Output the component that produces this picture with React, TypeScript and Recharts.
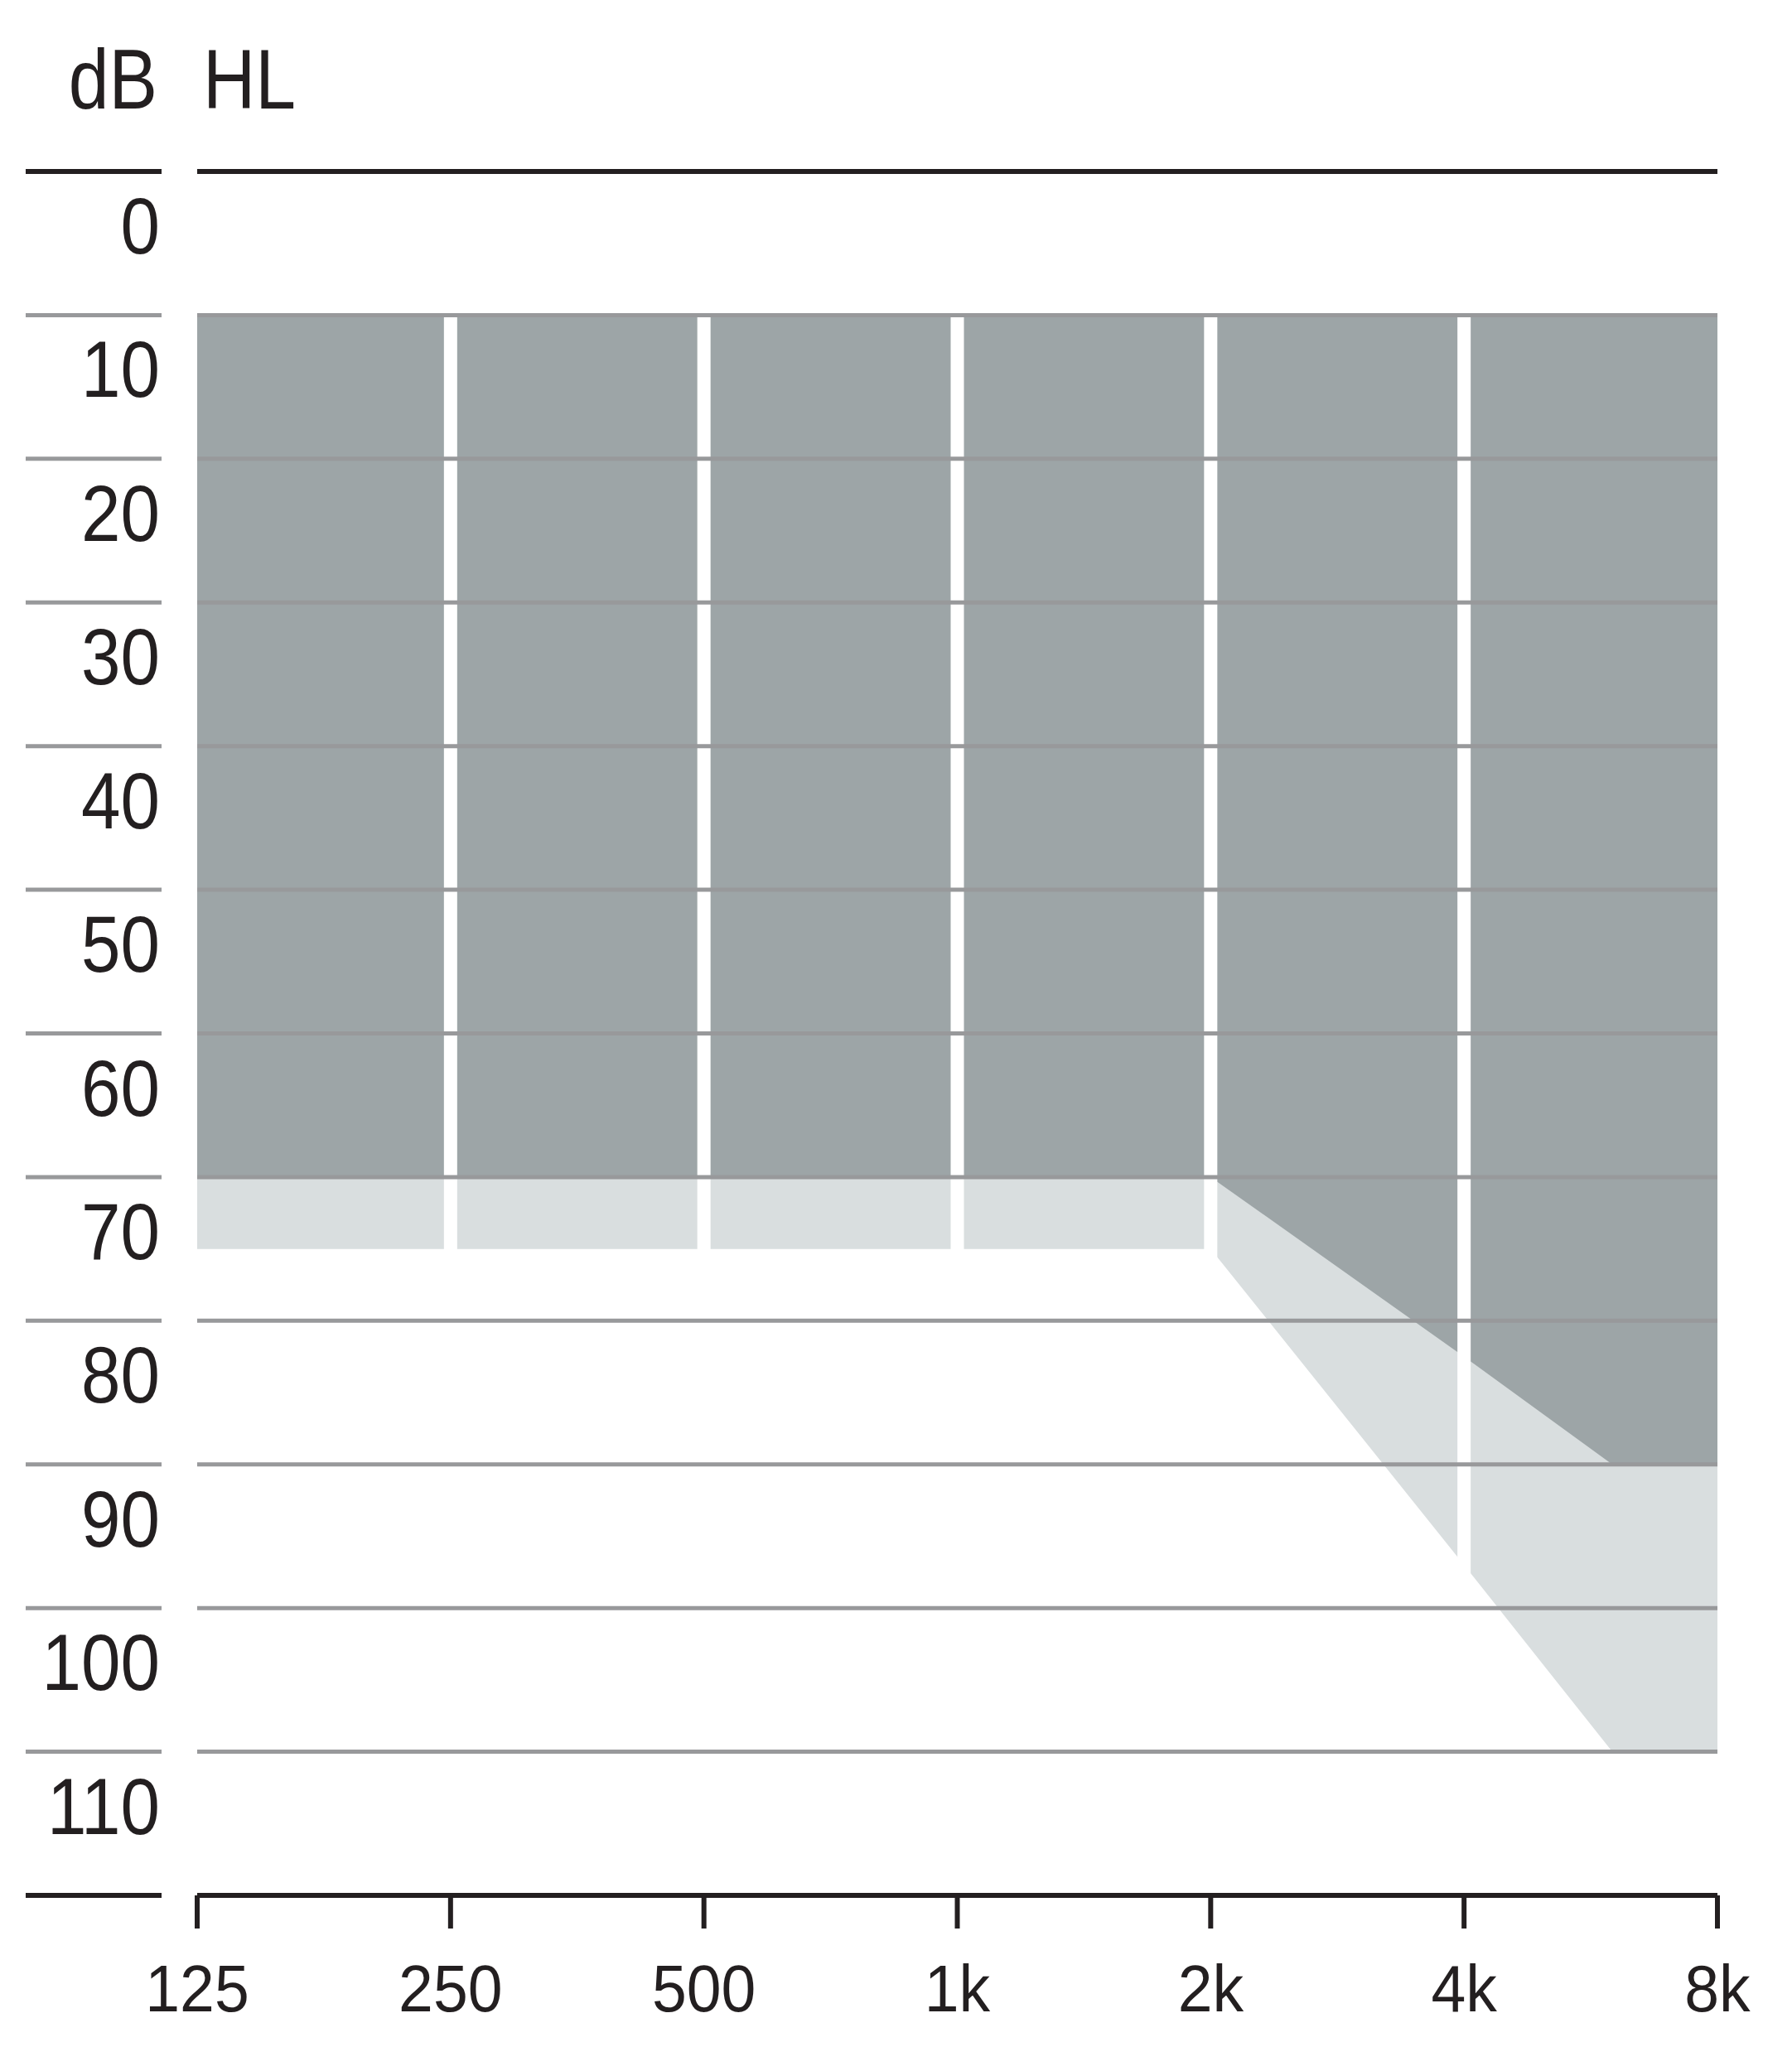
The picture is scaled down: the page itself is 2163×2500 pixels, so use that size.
import React from "react";
import { Area, ComposedChart, ReferenceLine, XAxis, YAxis } from "recharts";

// fitting range: frequency (Hz) vs hearing level (dB HL)
const frequencies = [125, 250, 500, 1000, 2000, 4000, 6000, 8000];
const upperLimit = [10, 10, 10, 10, 10, 10, 10, 10];
const coreLower = [70, 70, 70, 70, 70, 82.5, 90, 90];
const extendedLower = [75, 75, 75, 75, 75, 97, 110, 110];

const freqTicks = [125, 250, 500, 1000, 2000, 4000, 8000];
const freqLabels = ["125", "250", "500", "1k", "2k", "4k", "8k"];
const bandGaps = [250, 500, 1000, 2000, 4000];

const levelTicks = [0, 10, 20, 30, 40, 50, 60, 70, 80, 90, 100, 110, 120];
const levelLabels = ["0", "10", "20", "30", "40", "50", "60", "70", "80", "90", "100", "110"];

const FONT = "'Liberation Sans', Arial, sans-serif";
const INK = "#231f20";
const GRID = "#98999b";

const data = frequencies.map((f, i) => ({
  freq: f,
  core: [upperLimit[i], coreLower[i]],
  extended: [upperLimit[i], extendedLower[i]]
}));

// squeezed text, the original uses a narrow face
function NarrowText({ x, y, anchor, size, squeeze, children }: any) {
  return (
    <text
      transform={`translate(${x} ${y}) scale(${squeeze} 1)`}
      textAnchor={anchor}
      fontSize={size}
      fontFamily={FONT}
      fill={INK}
    >
      {children}
    </text>
  );
}

function LevelTick(props: any) {
  const { y, payload } = props;
  const v = payload.value;
  const edge = v === levelTicks[0] || v === levelTicks[levelTicks.length - 1];
  const idx = levelTicks.indexOf(v);
  return (
    <g>
      <line x1={31} x2={195} y1={y} y2={y} stroke={edge ? INK : GRID} strokeWidth={edge ? 6 : 5} />
      {levelLabels[idx] !== undefined && (
        <NarrowText x={193} y={y + 99} anchor="end" size={97} squeeze={0.88}>
          {levelLabels[idx]}
        </NarrowText>
      )}
    </g>
  );
}

function FreqTick(props: any) {
  const { x, y, payload } = props;
  const idx = freqTicks.indexOf(payload.value);
  return (
    <NarrowText x={x} y={y + 100} anchor="middle" size={80} squeeze={0.94}>
      {freqLabels[idx]}
    </NarrowText>
  );
}

export default function App() {
  return (
    <div style={{ position: "absolute", left: 0, top: 0, background: "#fff" }}>
      <ComposedChart
        width={2163}
        height={2500}
        data={data}
        margin={{ top: 207, right: 90, bottom: 62, left: 3 }}
      >
        <XAxis
          dataKey="freq"
          type="number"
          scale="log"
          domain={[125, 8000]}
          ticks={freqTicks}
          height={150}
          axisLine={false}
          tickLine={{ stroke: INK, strokeWidth: 6 }}
          tickSize={40}
          tickMargin={0}
          tick={<FreqTick />}
          allowDataOverflow
        />
        <YAxis
          type="number"
          domain={[0, 120]}
          reversed
          ticks={levelTicks}
          width={235}
          axisLine={false}
          tickLine={false}
          tickSize={0}
          tickMargin={0}
          tick={<LevelTick />}
          interval={0}
          label={{
            content: () => (
              <g>
                <NarrowText x={190} y={131} anchor="end" size={102} squeeze={0.86}>dB</NarrowText>
                <NarrowText x={245} y={131} anchor="start" size={102} squeeze={0.86}>HL</NarrowText>
              </g>
            )
          }}
        />

        <Area
          type="linear"
          dataKey="extended"
          stroke="none"
          fill="#d9dedf"
          fillOpacity={1}
          isAnimationActive={false}
        />
        <Area
          type="linear"
          dataKey="core"
          stroke="none"
          fill="#9da5a7"
          fillOpacity={1}
          isAnimationActive={false}
        />

        {bandGaps.map((f) => (
          <ReferenceLine
            key={`gap-${f}`}
            segment={[
              { x: f, y: 9 },
              { x: f, y: 111 }
            ]}
            stroke="#ffffff"
            strokeWidth={16}
          />
        ))}

        {levelTicks.map((v) => {
          const edge = v === levelTicks[0] || v === levelTicks[levelTicks.length - 1];
          return (
            <ReferenceLine
              key={`grid-${v}`}
              y={v}
              stroke={edge ? INK : GRID}
              strokeWidth={edge ? 6 : 5}
            />
          );
        })}
      </ComposedChart>
    </div>
  );
}
